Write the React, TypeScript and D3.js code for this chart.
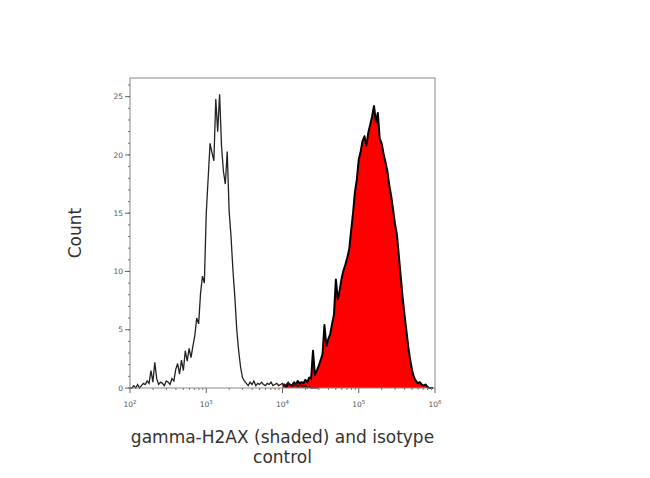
import * as d3 from "d3";
import React, { useLayoutEffect, useRef } from "react";

// histogram bins, log10 of intensity, step 0.025
const isoStart = 2.0;
const redStart = 4.0;
const binStep = 0.025;

const isotypeCounts = [
  0, 0, 0.2, 0, 0.3, 0, 0.2, 0.4, 0.3, 0.6,
  0.4, 1.5, 0.5, 2.2, 0.8, 0.3, 0.5, 0.4, 0.2, 0.6,
  0.5, 0.3, 0.8, 0.6, 1.6, 2.1, 1.2, 2.4, 1.5, 3.2,
  2.3, 3.4, 2.6, 3.6, 4.5, 6.0, 5.5, 8.1, 9.6, 9.0,
  15.0, 18.0, 21.0, 20.2, 19.5, 24.8, 22.0, 25.2, 20.8, 18.6,
  17.5, 20.3, 15.2, 13.0, 10.1, 7.8, 5.0, 3.2, 1.8, 0.9,
  0.6, 0.4, 0.2, 0.5, 0.3, 0.6, 0.2, 0.4, 0.3, 0.5,
  0.3, 0.2, 0.4, 0.3, 0.5, 0.2, 0.3, 0.4, 0.2, 0.3,
  0.4, 0.2, 0.3, 0.5, 0.2, 0.3, 0.2, 0.4, 0.1, 0.3,
  0.2, 0.1, 0.2, 0, 0.1, 0, 0, 0, 0, 0,
];

const h2axCounts = [
  0.2, 0.3, 0.1, 0.4, 0.3, 0.2, 0.5, 0.3, 0.6, 0.4,
  0.5, 0.4, 0.7, 0.5, 0.9, 0.8, 3.2, 1.1, 1.5, 1.9,
  2.4, 2.9, 5.4, 3.6, 4.2, 4.6, 5.5, 6.3, 9.3, 7.6,
  8.4, 9.4, 10.1, 10.6, 11.2, 11.9, 13.5, 15.0, 16.8, 17.9,
  19.6, 20.3, 21.2, 21.6, 20.8, 21.9, 22.6, 23.3, 24.2, 22.8,
  23.6, 21.4, 21.0, 20.1, 19.4, 18.6, 17.4, 16.5, 15.3, 14.1,
  13.2, 11.4, 9.6, 7.8, 6.3, 4.9, 3.5, 2.4, 1.5, 0.9,
  0.6, 0.4, 0.5, 0.3, 0.2, 0.3, 0.1, 0, 0, 0,
];

const yTicks = [0, 5, 10, 15, 20, 25];
const xExponents = [2, 3, 4, 5, 6];

const width = 650;
const height = 478;
const margin = { top: 78, right: 215, bottom: 90, left: 130 };

const App: React.FC = () => {
  const ref = useRef<SVGSVGElement>(null);

  useLayoutEffect(() => {
    const svg = d3.select(ref.current);
    const iw = width - margin.left - margin.right;
    const ih = height - margin.top - margin.bottom;

    const x = d3.scaleLog().domain([1e2, 1e6]).range([0, iw]);
    const y = d3.scaleLinear().domain([0, 26.6]).range([ih, 0]);

    const g = svg
      .append("g")
      .attr("transform", `translate(${margin.left},${margin.top})`);

    const toPoints = (start: number, counts: number[]) =>
      counts.map((c, i) => [Math.pow(10, start + i * binStep), c] as [number, number]);

    const area = d3
      .area<[number, number]>()
      .x((d) => x(d[0]))
      .y0(y(0))
      .y1((d) => y(d[1]));
    const line = d3
      .line<[number, number]>()
      .x((d) => x(d[0]))
      .y((d) => y(d[1]));

    const red = toPoints(redStart, h2axCounts);
    g.append("path").attr("d", area(red)).attr("fill", "#ff0000");
    g.append("path")
      .attr("d", line(red))
      .attr("fill", "none")
      .attr("stroke", "#000")
      .attr("stroke-width", 2)
      .attr("stroke-linejoin", "round");

    g.append("path")
      .attr("d", line(toPoints(isoStart, isotypeCounts)))
      .attr("fill", "none")
      .attr("stroke", "#222")
      .attr("stroke-width", 1.3);

    // frame
    g.append("rect")
      .attr("width", iw)
      .attr("height", ih)
      .attr("fill", "none")
      .attr("stroke", "#888")
      .attr("stroke-width", 1);

    // y axis
    const yAxis = g.append("g");
    yAxis
      .selectAll("line.minor")
      .data(d3.range(0, 27))
      .enter()
      .append("line")
      .attr("x1", -2)
      .attr("x2", 0)
      .attr("y1", (d) => y(d))
      .attr("y2", (d) => y(d))
      .attr("stroke", "#777");
    yAxis
      .selectAll("line.major")
      .data(yTicks)
      .enter()
      .append("line")
      .attr("x1", -5)
      .attr("x2", 0)
      .attr("y1", (d) => y(d))
      .attr("y2", (d) => y(d))
      .attr("stroke", "#666");
    yAxis
      .selectAll("text")
      .data(yTicks)
      .enter()
      .append("text")
      .attr("x", -7)
      .attr("y", (d) => y(d))
      .attr("dy", "0.35em")
      .attr("text-anchor", "end")
      .attr("font-family", "DejaVu Sans, sans-serif")
      .attr("font-size", 7.5)
      .attr("fill", "#555")
      .text((d) => d);

    // x axis with log minor ticks
    const minor: number[] = [];
    for (let e = 2; e < 6; e++) for (let m = 2; m < 10; m++) minor.push(m * Math.pow(10, e));
    const xAxis = g.append("g").attr("transform", `translate(0,${ih})`);
    xAxis
      .selectAll("line.minor")
      .data(minor)
      .enter()
      .append("line")
      .attr("x1", (d) => x(d))
      .attr("x2", (d) => x(d))
      .attr("y1", 0)
      .attr("y2", 2)
      .attr("stroke", "#777");
    xAxis
      .selectAll("line.major")
      .data(xExponents)
      .enter()
      .append("line")
      .attr("x1", (d) => x(Math.pow(10, d)))
      .attr("x2", (d) => x(Math.pow(10, d)))
      .attr("y1", 0)
      .attr("y2", 5)
      .attr("stroke", "#666");
    const xl = xAxis
      .selectAll("text")
      .data(xExponents)
      .enter()
      .append("text")
      .attr("x", (d) => x(Math.pow(10, d)))
      .attr("y", 19)
      .attr("text-anchor", "middle")
      .attr("font-family", "DejaVu Sans, sans-serif")
      .attr("font-size", 7.5)
      .attr("fill", "#555");
    xl.append("tspan").text("10");
    xl.append("tspan")
      .attr("dy", -3)
      .attr("font-size", 5.5)
      .text((d) => d);

    // titles
    svg
      .append("text")
      .attr("transform", `translate(81,${margin.top + ih / 2}) rotate(-90)`)
      .attr("text-anchor", "middle")
      .attr("font-family", "DejaVu Sans, sans-serif")
      .attr("font-size", 17)
      .attr("fill", "#333")
      .text("Count");

    const title = svg
      .append("text")
      .attr("text-anchor", "middle")
      .attr("font-family", "DejaVu Sans, sans-serif")
      .attr("font-size", 17)
      .attr("fill", "#333");
    title
      .append("tspan")
      .attr("x", margin.left + iw / 2)
      .attr("y", 443)
      .text("gamma-H2AX (shaded) and isotype");
    title
      .append("tspan")
      .attr("x", margin.left + iw / 2)
      .attr("y", 463)
      .text("control");

    return () => {
      svg.selectAll("*").remove();
    };
  }, []);

  return (
    <svg
      ref={ref}
      width={width}
      height={height}
      style={{ position: "absolute", left: 0, top: 0, background: "#fff" }}
    />
  );
};

export default App;
